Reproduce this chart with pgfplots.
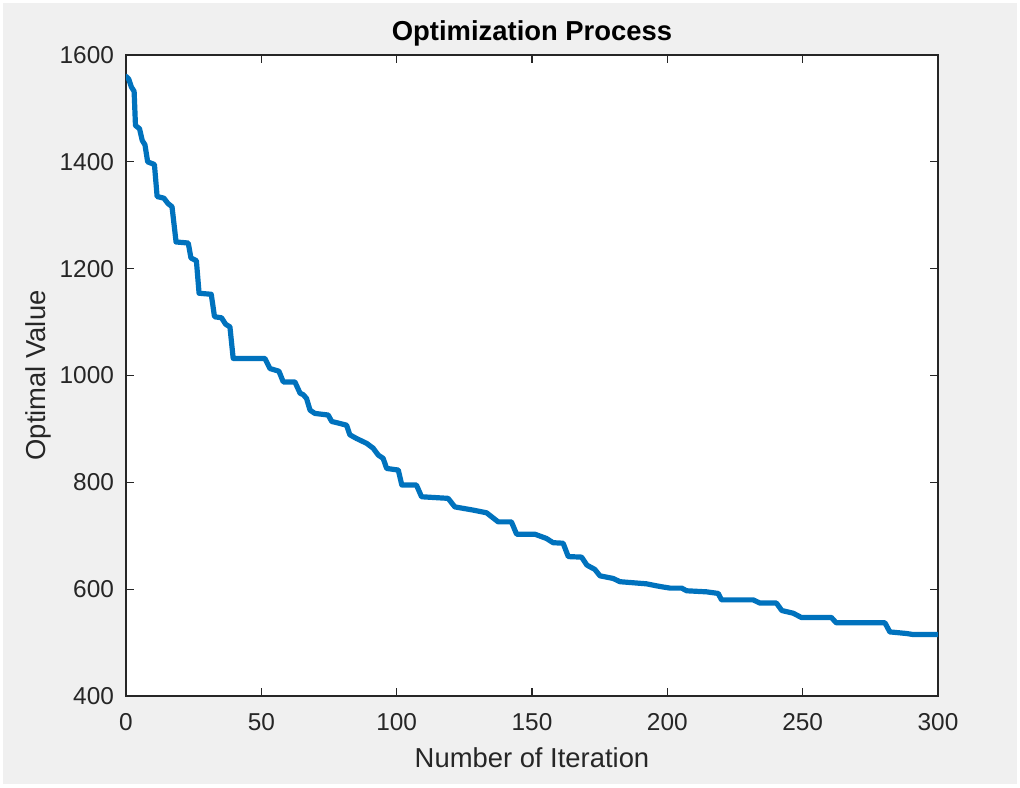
\documentclass[border=0pt]{standalone}
\usepackage{fontspec}
\setmainfont{Liberation Sans}
\usepackage{pgfplots}
\pgfplotsset{compat=1.18}
\definecolor{figbg}{HTML}{F0F0F0}
\definecolor{axgray}{HTML}{262626}
\definecolor{mblue}{HTML}{0072BD}
\begin{document}
\begin{tikzpicture}
\useasboundingbox (-63pt,-45.5pt) rectangle (447pt,348pt);
\fill[white] (-63pt,-45.5pt) rectangle (447pt,348pt);
\fill[figbg] (-61.5pt,-44pt) rectangle (445.5pt,346.5pt);
\begin{axis}[
    at={(0,0)}, anchor=south west,
    width=406pt, height=320.5pt, scale only axis,
    xmin=0, xmax=300, ymin=400, ymax=1600,
    xtick={0,50,...,300}, ytick={400,600,...,1600},
    axis background/.style={fill=white},
    tick align=inside, major tick length=4pt,
    axis line style={draw=axgray, line width=0.6pt},
    every tick/.style={axgray, line width=0.6pt},
    ticklabel style={font=\fontsize{12.2}{14}\selectfont, text=axgray},
    xticklabel style={yshift=-5pt},
    yticklabel style={xshift=-2.5pt},
    /pgf/number format/assume math mode=true,
    /pgf/number format/1000 sep={},
    scaled ticks=false,
    title={Optimization Process},
    xlabel={Number of Iteration},
    ylabel={Optimal Value},
    every axis title/.style={at={(axis description cs:0.5,1.0343)}, anchor=center,
        font=\fontsize{13.7}{16}\selectfont\bfseries, text=black},
    every axis x label/.style={at={(axis description cs:0.5,-0.0967)}, anchor=center,
        font=\fontsize{13.7}{16}\selectfont, text=axgray},
    every axis y label/.style={at={(axis description cs:-0.1084,0.5)}, rotate=90, anchor=center,
        font=\fontsize{13.7}{16}\selectfont, text=axgray},
]
\addplot[mblue, line width=2.6pt, line join=round, line cap=round] coordinates {
(0,1560) (1,1555) (2,1540) (3,1532) (3.5,1468) (5,1462) (6,1440) (7,1432)
(8,1400) (10.5,1395) (11.5,1335) (14,1332) (15.5,1322) (17,1316) (18.5,1250)
(23,1248) (24,1220) (26,1215) (27,1154) (31.5,1152) (32.7,1110) (35.3,1108)
(36.8,1096) (38.4,1091) (39.6,1032) (51.3,1032) (53.2,1013) (56.5,1008)
(58.1,988) (62.4,988) (64.3,967) (65.5,964) (66.7,957) (68,935) (69.8,929)
(74.7,926) (76,914) (78.4,911) (81.5,907) (82.7,889) (85.2,882) (88.9,873)
(91.3,864) (93.2,851) (95,845) (96.3,826) (100.6,823) (101.9,795) (107.3,795)
(109.2,773) (119,770) (121.5,754) (128.3,748) (133.2,743) (137.5,726)
(142.4,726) (144.3,703) (151,703) (155.3,695) (157.8,687) (161.5,686)
(163.4,661) (168.3,660) (170.3,645) (173.2,637) (175.1,625) (180,620)
(182.5,614) (187.4,612) (192.3,610) (197.3,605) (201,602) (205.3,602)
(207.1,597) (214.5,595) (218.8,592) (220,580) (231.7,580) (234.2,574)
(240.3,574) (242.3,560) (246.5,555) (249.5,547) (260.6,547) (262.4,537)
(280.4,537) (282.2,520) (288.4,517) (290.9,515) (300,515)
};
\end{axis}
\end{tikzpicture}
\end{document}
